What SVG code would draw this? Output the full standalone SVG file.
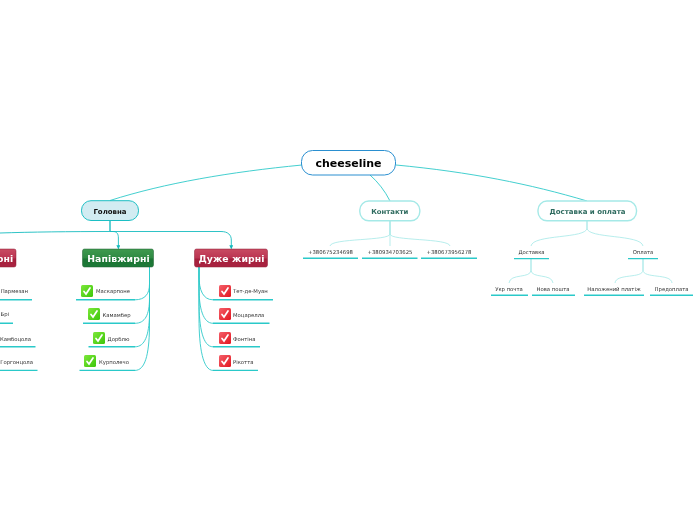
<svg xmlns="http://www.w3.org/2000/svg" width="697" height="520" viewBox="0 0 697 520">
<style>
text{font-family:"DejaVu Sans","Liberation Sans",sans-serif;text-anchor:middle}
.c{fill:none;stroke:#2fc9c9;stroke-width:.9}
.p{fill:none;stroke:#a5e9e7;stroke-width:.8}
.u{fill:none;stroke:#2cc9c9;stroke-width:1.4}
.l{font-size:5.3px;fill:#333}
.e{text-anchor:end}
.s{text-anchor:start}
.b{font-weight:bold;font-size:9.300px;fill:#fff;letter-spacing:.1px}
.tick{fill:none;stroke:#fff;stroke-width:1.7;stroke-linecap:round}
</style>
<defs>
<linearGradient id="gG" x1="0" y1="0" x2="0" y2="1"><stop offset="0" stop-color="#3f9a50"/><stop offset=".5" stop-color="#2f8a42"/><stop offset=".55" stop-color="#1b7433"/><stop offset="1" stop-color="#1c7a38"/></linearGradient>
<linearGradient id="gR" x1="0" y1="0" x2="0" y2="1"><stop offset="0" stop-color="#c84a62"/><stop offset=".5" stop-color="#bb3552"/><stop offset=".55" stop-color="#a51f3d"/><stop offset="1" stop-color="#a92440"/></linearGradient>
<linearGradient id="gi" x1="0" y1="0" x2="1" y2="1"><stop offset="0" stop-color="#7de83a"/><stop offset="1" stop-color="#3cc60a"/></linearGradient>
<linearGradient id="ri" x1="0" y1="0" x2="1" y2="1"><stop offset="0" stop-color="#f4606a"/><stop offset="1" stop-color="#e3161f"/></linearGradient>
<marker id="a" viewBox="0 0 6 6" refX="5" refY="3" markerWidth="4.500" markerHeight="4.500" orient="auto"><path d="M0 0L6 3L0 6Z" fill="#12b8bc"/></marker>
<g id="ok"><rect width="12" height="12" rx="1.500" fill="url(#gi)"/><path class="tick" d="M3 6.500L5 9L9 3"/></g>
<g id="no"><rect width="12" height="12" rx="1.500" fill="url(#ri)"/><path class="tick" d="M3 6.500L5 9L9 3"/></g>
<filter id="soft" x="-2%" y="-2%" width="104%" height="104%"><feGaussianBlur stdDeviation=".38"/></filter>
</defs>
<rect width="697" height="520" fill="#fff"/>
<g filter="url(#soft)">
<g id="connectors">
<path class="c" d="M302 165C230 172 165 183 110 200.500"/>
<path class="c" d="M396 165C470 172 530 184 587 201"/>
<path class="c" d="M370 175C378 182 385 191 390 201"/>
<path d="M110 220.500V231" fill="none" stroke="#17bcc0" stroke-width="1.400"/>
<path d="M110 231.500C70 231.500 30 232 0 233" fill="none" stroke="#17bcc0" stroke-width=".9"/>
<path d="M110 231.500H113C117 231.500 118.400 234 118.400 238V248.500" fill="none" stroke="#17bcc0" stroke-width=".9" marker-end="url(#a)"/>
<path d="M110 231.500H221C228 231.500 231.300 235 231.300 240V248.500" fill="none" stroke="#17bcc0" stroke-width=".9" marker-end="url(#a)"/>
<path class="c" d="M149.500 267V284C149.500 294 145 299.800 135 299.800"/>
<path class="c" d="M149.500 267V298C149.500 315 145 323.300 135 323.300"/>
<path class="c" d="M149.500 267V315C149 335 145 346.800 135 346.800"/>
<path class="c" d="M149.500 267V328C149 355 145 370.400 135 370.400"/>
<path class="c" d="M199 267V276C199 290 203 299.800 213 299.800"/>
<path class="c" d="M199 267V288C199 308 203 323.300 213 323.300"/>
<path class="c" d="M199 267V302C199 328 203 346.800 213 346.800"/>
<path class="c" d="M199 267V318C199 348 203 370.400 213 370.400"/>
<path class="p" d="M390 221V234C390 241 331 238 330 246"/>
<path class="p" d="M390 221V246"/>
<path class="p" d="M390 221V234C390 241 449 238 450 246"/>
<path class="p" d="M587 221V228C587 239 533 234 531 246"/>
<path class="p" d="M587 221V228C587 239 641 234 643 246"/>
<path class="p" d="M531 259V270C531 279 510 273 509 283"/>
<path class="p" d="M531 259V270C531 279 552 273 553 283"/>
<path class="p" d="M643 259V270C643 279 616 273 615 283"/>
<path class="p" d="M643 259V270C643 279 671 273 672 283"/>
<path class="u" d="M0 299.800H32M0 323.300H13M0 346.800H35.500M0 370.400H37.500"/>
<path class="u" d="M76 299.800H135M83 323.300H135M88.500 346.800H135M79.500 370.400H135"/>
<path class="u" d="M213 299.800H273M213 323.300H269.500M213 346.800H260M213 370.400H258"/>
<path class="u" d="M303 258.300H358M362 258.300H417.500M421 258.300H477"/>
<path class="u" d="M514 258.600H549M628 258.600H658M491 295.200H528M532 295.200H575M584 295.200H644M650 295.200H693"/>
</g>
<g id="root"><rect x="301.500" y="150.500" width="94" height="24.500" rx="11" fill="#fff" stroke="#2a8fd0" stroke-width="1"/><text x="348.500" y="167" font-size="11" font-weight="bold" fill="#000">cheeseline</text></g>
<g id="golovna"><rect x="81.500" y="200.700" width="57" height="19.800" rx="9.500" fill="#d2ecf2" stroke="#1fbfc4" stroke-width="1"/><text x="110" y="214.300" font-size="7" font-weight="bold" fill="#111">Головна</text></g>
<g id="kontakty"><rect x="359.800" y="201" width="60" height="19.800" rx="9" fill="#fff" stroke="#a5e9e7" stroke-width="1.400"/><text x="389.800" y="213.600" font-size="6.900" font-weight="bold" fill="#2f6b5f">Контакти</text></g>
<g id="dostavka"><rect x="538" y="201" width="98.500" height="19.800" rx="9" fill="#fff" stroke="#a5e9e7" stroke-width="1.400"/><text x="587.500" y="213.800" font-size="7" font-weight="bold" fill="#2f6b5f">Доставка и оплата</text></g>
<g id="zhyrni"><rect x="-40" y="249" width="56" height="18" rx="2" fill="url(#gR)" stroke="#8c1a34" stroke-width=".5"/><text class="b" x="-4" y="261.500">Жирні</text></g>
<g id="napiv"><rect x="82.500" y="249" width="71" height="18" rx="2" fill="url(#gG)" stroke="#1a5f2c" stroke-width=".5"/><text class="b" x="118.500" y="261.500">Напівжирні</text></g>
<g id="duzhe"><rect x="194.500" y="249" width="73" height="18" rx="2" fill="url(#gR)" stroke="#8c1a34" stroke-width=".5"/><text class="b" x="231.500" y="261.500">Дуже жирні</text></g>
<g id="l1"><text class="l e" x="28" y="293">Пармезан</text></g>
<g id="l2"><text class="l e" x="9" y="316">Брі</text></g>
<g id="l3"><text class="l e" x="31" y="340.500">Камбоцола</text></g>
<g id="l4"><text class="l e" x="33" y="363.500">Горгонцола</text></g>
<g id="m1"><use href="#ok" x="81" y="285"/><text class="l s" x="96" y="293">Маскарпоне</text></g>
<g id="m2"><use href="#ok" x="88" y="308"/><text class="l s" x="102.500" y="317">Камамбер</text></g>
<g id="m3"><use href="#ok" x="93" y="332"/><text class="l s" x="107.500" y="340.500">Дорблю</text></g>
<g id="m4"><use href="#ok" x="84" y="355"/><text class="l s" x="99" y="364">Курполечо</text></g>
<g id="r1"><use href="#no" x="219" y="285"/><text class="l s" x="233" y="293">Тет-де-Муан</text></g>
<g id="r2"><use href="#no" x="219" y="308"/><text class="l s" x="233" y="316.500">Моцарелла</text></g>
<g id="r3"><use href="#no" x="219" y="332"/><text class="l s" x="233" y="340.500">Фонтіна</text></g>
<g id="r4"><use href="#no" x="219" y="355"/><text class="l s" x="233" y="363.500">Рікотта</text></g>
<g id="t1"><text class="l" x="330.500" y="254">+380675234698</text></g>
<g id="t2"><text class="l" x="390" y="254">+380934703625</text></g>
<g id="t3"><text class="l" x="449" y="254">+380673956278</text></g>
<g id="d"><text class="l" x="531.500" y="254">Доставка</text></g>
<g id="o"><text class="l" x="643" y="254">Оплата</text></g>
<g id="d1"><text class="l" x="509" y="290.500">Укр почта</text></g>
<g id="d2"><text class="l" x="553" y="290.500">Нова пошта</text></g>
<g id="o1"><text class="l" x="614" y="290.500">Наложений платіж</text></g>
<g id="o2"><text class="l" x="671.500" y="290.500">Предоплата</text></g>
</g>
</svg>
